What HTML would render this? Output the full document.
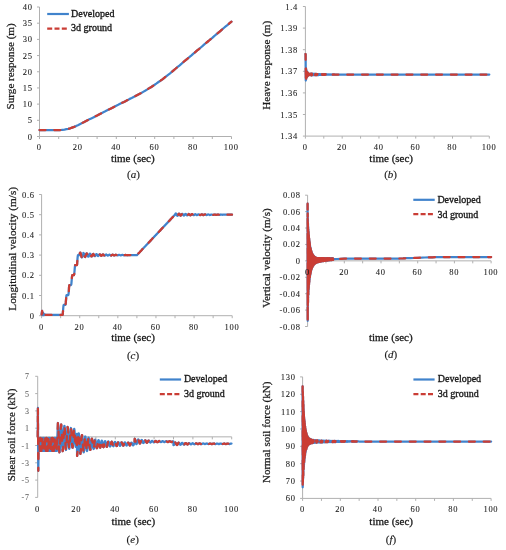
<!DOCTYPE html>
<html><head><meta charset="utf-8"><title>Figure</title><style>
html,body{margin:0;padding:0;background:#fff;width:506px;height:550px;overflow:hidden}
svg{display:block}
text{font-family:"Liberation Serif",serif;fill:#1a1a1a}
text{stroke:#1a1a1a;stroke-width:0.2}
.t{stroke-width:0.25}
.c{stroke-width:0.15}
.xt{stroke-width:0.3}
.lg{stroke-width:0.35}
.k{letter-spacing:0.7px;stroke-width:0.08}
.lt{fill:#666;stroke:#666;font-size:8px}
</style></head><body>
<svg width="506" height="550" viewBox="0 0 506 550">
<defs>
<path id="s1" d="M39.5,130.0L41.4,130.0L43.3,130.0L45.3,130.0L47.2,130.0L49.1,130.0L51.0,130.0L52.9,130.0L54.9,130.0L56.8,130.0L58.7,130.0L60.6,130.0L62.5,129.8L64.5,129.6L66.4,129.2L68.3,128.8L70.2,128.3L72.1,127.6L74.1,126.9L76.0,126.1L77.9,125.2L79.8,124.2L81.7,123.2L83.7,122.3L85.6,121.3L87.5,120.3L89.4,119.3L91.3,118.4L93.3,117.4L95.2,116.4L97.1,115.5L99.0,114.5L100.9,113.5L102.9,112.5L104.8,111.6L106.7,110.6L108.6,109.6L110.5,108.7L112.5,107.7L114.4,106.7L116.3,105.7L118.2,104.8L120.1,103.8L122.1,102.8L124.0,101.9L125.9,100.9L127.8,99.9L129.7,98.9L131.7,98.0L133.6,97.0L135.5,96.0L137.4,95.0L139.3,94.0L141.3,93.0L143.2,91.9L145.1,90.8L147.0,89.6L148.9,88.4L150.9,87.2L152.8,86.0L154.7,84.7L156.6,83.4L158.5,82.0L160.5,80.7L162.4,79.3L164.3,77.8L166.2,76.3L168.1,74.8L170.1,73.3L172.0,71.7L173.9,70.1L175.8,68.5L177.7,66.9L179.7,65.3L181.6,63.7L183.5,62.0L185.4,60.4L187.3,58.8L189.3,57.2L191.2,55.6L193.1,53.9L195.0,52.3L196.9,50.7L198.9,49.1L200.8,47.5L202.7,45.9L204.6,44.2L206.5,42.6L208.5,41.0L210.4,39.4L212.3,37.8L214.2,36.1L216.1,34.5L218.1,32.9L220.0,31.3L221.9,29.7L223.8,28.0L225.7,26.4L227.7,24.8L229.6,23.2L231.5,21.6"/>
<path id="s2" d="M305.4,54.0L305.6,54.0L305.7,66.8L305.8,80.6L305.9,67.7L306.0,79.8L306.0,68.6L306.1,79.2L306.2,69.3L306.3,78.6L306.4,70.0L306.5,78.1L306.6,70.5L306.7,77.7L306.8,71.0L306.9,77.3L307.0,71.5L307.1,76.9L307.1,71.9L307.2,76.6L307.3,72.2L307.4,76.4L307.5,72.5L307.6,76.1L307.7,72.7L307.8,75.9L307.9,73.0L308.0,75.8L308.1,73.2L308.2,75.6L308.3,73.3L308.3,75.5L308.4,73.5L308.5,75.4L308.6,73.6L308.7,75.3L308.8,73.7L308.9,75.2L309.0,73.8L309.1,75.1L309.2,73.9L309.3,75.0L309.4,74.0L309.4,75.0L309.5,74.1L309.6,74.9L309.7,74.1L309.8,74.9L309.9,74.2L310.0,74.8L310.1,74.2L310.2,74.8L310.3,74.3L310.4,74.8L310.5,74.3L310.5,74.7L310.6,74.3L310.7,74.7L310.8,74.4L310.9,73.7L311.4,75.4L311.8,73.7L312.3,75.3L312.8,73.8L313.2,75.2L313.7,73.9L314.1,75.2L314.6,73.9L315.1,75.1L315.5,74.0L316.0,75.1L316.4,74.0L316.9,75.0L317.4,74.1L317.8,75.0L318.3,74.1L318.7,75.0L319.2,74.1L319.7,74.9L320.1,74.2L320.6,74.9L321.0,74.2L321.5,74.9L322.0,74.2L322.4,74.8L322.9,74.2L323.3,74.8L323.8,74.3L324.2,74.8L324.7,74.3L325.2,74.8L325.6,74.3L326.1,74.8L326.5,74.3L327.0,74.7L327.5,74.3L327.9,74.7L328.4,74.4L328.8,74.7L329.3,74.4L329.8,74.7L330.2,74.4L330.7,74.7L331.1,74.4L331.6,74.7L332.1,74.4L332.5,74.7L333.0,74.4L333.4,74.7L333.9,74.4L334.4,74.6L334.8,74.5L489.3,74.5"/>
<path id="s3" d="M41.6,314.5L42.1,310.9L42.6,315.1L43.1,312.9L43.7,315.1L44.5,314.3L45.4,314.9L45.6,314.9L45.8,314.9L46.0,314.9L46.2,314.9L46.4,314.9L46.6,314.9L46.7,314.9L46.9,314.9L47.1,314.9L47.3,314.9L47.5,314.9L47.7,314.9L47.9,314.9L48.1,314.9L48.3,314.9L48.5,314.9L48.7,314.9L48.8,314.9L49.0,314.9L49.2,314.9L49.4,314.9L49.6,314.9L49.8,314.9L50.0,314.9L50.2,314.9L50.4,314.9L50.6,314.9L50.7,314.9L50.9,314.9L51.1,314.9L51.3,314.9L51.5,314.9L51.7,314.9L51.9,314.9L52.1,314.9L52.3,314.9L52.5,314.9L52.7,314.9L52.8,314.9L53.0,314.9L53.2,314.9L53.4,314.9L53.6,314.9L53.8,314.9L54.0,314.9L54.2,314.9L54.4,314.9L54.6,314.9L54.8,314.9L54.9,314.9L55.1,314.9L55.3,314.9L55.5,314.9L55.7,314.9L55.9,314.9L56.1,314.9L56.3,314.9L56.5,314.9L56.7,314.9L56.8,314.9L57.0,314.9L57.2,314.9L57.4,314.9L57.6,314.9L57.8,314.9L58.0,314.9L58.2,314.9L58.4,314.9L58.6,314.9L58.8,314.9L58.9,314.9L59.1,314.9L59.3,314.9L59.5,314.9L59.7,314.9L59.9,314.9L60.1,314.9L60.3,314.9L60.5,314.9L60.7,314.9L60.9,314.9L61.0,314.9L61.2,314.9L61.4,314.9L61.6,314.9L61.8,314.9L62.0,314.9L62.2,314.9L62.4,314.9L62.6,314.9L62.8,314.2L62.9,312.3L63.1,309.9L63.3,307.5L63.5,305.7L63.7,304.9L63.9,304.9L64.1,304.9L64.3,304.9L64.5,304.9L64.7,304.9L64.9,304.9L65.0,304.9L65.2,304.9L65.4,304.9L65.6,304.2L65.8,302.4L66.0,300.0L66.2,297.6L66.4,295.7L66.6,295.0L66.8,295.0L66.9,295.0L67.1,295.0L67.3,295.0L67.5,295.0L67.7,295.0L67.9,295.0L68.1,295.0L68.3,295.0L68.5,294.2L68.7,292.4L68.9,290.0L69.0,287.6L69.2,285.8L69.4,285.0L69.6,285.0L69.8,285.0L70.0,285.0L70.2,285.0L70.4,285.0L70.6,285.0L70.8,285.0L71.0,285.0L71.1,285.0L71.3,284.3L71.5,282.4L71.7,280.0L71.9,277.6L72.1,275.8L72.3,275.1L72.5,275.1L72.7,275.1L72.9,275.1L73.0,275.1L73.2,275.1L73.4,275.1L73.6,275.1L73.8,275.1L74.0,275.1L74.2,274.3L74.4,272.5L74.6,270.1L74.8,267.7L75.0,265.8L75.1,265.1L75.3,265.1L75.5,265.1L75.7,265.1L75.9,265.1L76.1,265.1L76.3,265.1L76.5,265.1L76.7,265.1L76.9,265.1L77.1,264.4L77.2,262.5L77.4,260.1L77.6,257.7L77.8,255.9L78.0,255.1L78.2,255.1L78.4,255.1L78.6,255.1L78.8,255.1L79.0,255.1L79.1,255.1L79.3,255.1L79.5,255.1L79.7,253.8L79.9,253.1L80.1,252.7L80.3,252.6L80.5,252.8L80.7,253.3L80.9,254.1L81.1,255.0L81.2,255.8L81.4,256.6L81.6,257.1L81.8,257.4L82.0,257.3L82.2,257.0L82.4,256.4L82.6,255.6L82.8,254.8L83.0,254.1L83.2,253.5L83.3,253.1L83.5,253.0L83.7,253.2L83.9,253.6L84.1,254.3L84.3,255.0L84.5,255.7L84.7,256.3L84.9,256.8L85.1,257.0L85.2,257.0L85.4,256.7L85.6,256.2L85.8,255.5L86.0,254.9L86.2,254.2L86.4,253.7L86.6,253.4L86.8,253.4L87.0,253.5L87.2,253.9L87.3,254.4L87.5,255.0L87.7,255.6L87.9,256.1L88.1,256.5L88.3,256.7L88.5,256.6L88.7,256.4L88.9,256.0L89.1,255.5L89.2,254.9L89.4,254.4L89.6,254.0L89.8,253.7L90.0,253.7L90.2,253.8L90.4,254.1L90.6,254.5L90.8,255.0L91.0,255.5L91.2,256.0L91.3,256.3L91.5,256.4L91.7,256.4L91.9,256.2L92.1,255.8L92.3,255.4L92.5,254.9L92.7,254.5L92.9,254.2L93.1,254.0L93.3,253.9L93.4,254.0L93.6,254.3L93.8,254.6L94.0,255.0L94.2,255.4L94.4,255.8L94.6,256.1L94.8,256.2L95.0,256.2L95.2,256.0L95.3,255.7L95.5,255.3L95.7,255.0L95.9,254.6L96.1,254.3L96.3,254.2L96.5,254.1L96.7,254.2L96.9,254.4L97.1,254.7L97.3,255.0L97.4,255.4L97.6,255.7L97.8,255.9L98.0,256.0L98.2,256.0L98.4,255.8L98.6,255.6L98.8,255.3L99.0,255.0L99.2,254.7L99.4,254.5L99.5,254.3L99.7,254.3L99.9,254.4L100.1,254.5L100.3,254.8L100.5,255.1L100.7,255.3L100.9,255.6L101.1,255.8L101.3,255.8L101.4,255.8L101.6,255.7L101.8,255.5L102.0,255.3L102.2,255.0L102.4,254.8L102.6,254.6L102.8,254.5L103.0,254.4L103.2,254.5L103.4,254.6L103.5,254.8L103.7,255.1L103.9,255.3L104.1,255.5L104.3,255.6L104.5,255.7L104.7,255.7L104.9,255.6L105.1,255.4L105.3,255.2L105.5,255.0L105.6,254.8L105.8,254.7L106.0,254.6L106.2,254.5L106.4,254.6L106.6,254.7L106.8,254.9L107.0,255.1L107.2,255.3L107.4,255.4L107.5,255.6L107.7,255.6L107.9,255.6L108.1,255.5L108.3,255.4L108.5,255.2L108.7,255.0L108.9,254.9L109.1,254.7L109.3,254.7L109.5,254.6L109.6,254.7L109.8,254.8L110.0,254.9L110.2,255.1L110.4,255.2L110.6,255.4L110.8,255.5L111.0,255.5L111.2,255.5L111.4,255.4L111.6,255.3L111.7,255.2L111.9,255.0L112.1,254.9L112.3,254.8L112.5,254.7L112.7,254.7L112.9,254.8L113.1,254.8L113.3,254.9L113.5,255.1L113.6,255.2L113.8,255.3L114.0,255.4L114.2,255.4L114.4,255.4L114.6,255.4L114.8,255.3L115.0,255.2L115.2,255.1L115.4,254.9L115.6,254.9L115.7,254.8L115.9,254.8L116.1,254.8L116.3,254.9L116.5,255.0L116.7,255.1L116.9,255.2L117.1,255.3L117.3,255.4L117.5,255.4L117.6,255.4L117.8,255.3L118.0,255.3L118.2,255.2L118.4,255.1L118.6,255.0L118.8,254.9L119.0,254.8L119.2,254.8L119.4,254.9L119.6,254.9L119.7,255.0L119.9,255.1L120.1,255.2L120.3,255.3L120.5,255.3L120.7,255.3L120.9,255.3L121.1,255.3L121.3,255.2L121.5,255.2L121.7,255.1L121.8,255.0L122.0,254.9L122.2,254.9L122.4,254.9L122.6,254.9L122.8,254.9L123.0,255.0L123.2,255.1L123.4,255.2L123.6,255.2L123.7,255.3L123.9,255.3L124.1,255.3L124.3,255.3L124.5,255.2L124.7,255.1L124.9,255.1L125.1,255.0L125.3,255.0L125.5,254.9L125.7,254.9L125.8,254.9L126.0,255.0L126.2,255.0L126.4,255.1L126.6,255.2L126.8,255.2L127.0,255.2L127.2,255.3L127.4,255.1L127.6,255.1L127.8,255.1L127.9,255.1L128.1,255.1L128.3,255.1L128.5,255.1L128.7,255.1L128.9,255.1L129.1,255.1L129.3,255.1L129.5,255.1L129.7,255.1L129.8,255.1L130.0,255.1L130.2,255.1L130.4,255.1L130.6,255.1L130.8,255.1L131.0,255.1L131.2,255.1L131.4,255.1L131.6,255.1L131.8,255.1L131.9,255.1L132.1,255.1L132.3,255.1L132.5,255.1L132.7,255.1L132.9,255.1L133.1,255.1L133.3,255.1L133.5,255.1L133.7,255.1L133.9,255.1L134.0,255.1L134.2,255.1L134.4,255.1L134.6,255.1L134.8,255.1L135.0,255.1L135.2,255.1L135.4,255.1L135.6,255.1L135.8,255.1L135.9,255.1L136.1,255.1L136.3,255.1L136.5,255.1L136.7,255.1L136.9,255.1L137.1,254.9L137.3,254.7L137.5,254.5L137.7,254.3L137.9,254.1L138.0,253.9L138.2,253.7L138.4,253.5L138.6,253.3L138.8,253.1L139.0,252.9L139.2,252.7L139.4,252.5L139.6,252.3L139.8,252.1L139.9,251.9L140.1,251.7L140.3,251.5L140.5,251.3L140.7,251.1L140.9,250.9L141.1,250.7L141.3,250.5L141.5,250.3L141.7,250.0L141.9,249.8L142.0,249.6L142.2,249.4L142.4,249.2L142.6,249.0L142.8,248.8L143.0,248.6L143.2,248.4L143.4,248.2L143.6,248.0L143.8,247.8L144.0,247.6L144.1,247.4L144.3,247.2L144.5,247.0L144.7,246.8L144.9,246.6L145.1,246.4L145.3,246.2L145.5,246.0L145.7,245.8L145.9,245.6L146.0,245.4L146.2,245.2L146.4,245.0L146.6,244.8L146.8,244.6L147.0,244.4L147.2,244.2L147.4,244.0L147.6,243.8L147.8,243.6L148.0,243.4L148.1,243.2L148.3,243.0L148.5,242.8L148.7,242.6L148.9,242.4L149.1,242.2L149.3,242.0L149.5,241.8L149.7,241.6L149.9,241.4L150.1,241.2L150.2,241.0L150.4,240.8L150.6,240.6L150.8,240.4L151.0,240.2L151.2,239.9L151.4,239.7L151.6,239.5L151.8,239.3L152.0,239.1L152.1,238.9L152.3,238.7L152.5,238.5L152.7,238.3L152.9,238.1L153.1,237.9L153.3,237.7L153.5,237.5L153.7,237.3L153.9,237.1L154.1,236.9L154.2,236.7L154.4,236.5L154.6,236.3L154.8,236.1L155.0,235.9L155.2,235.7L155.4,235.5L155.6,235.3L155.8,235.1L156.0,234.9L156.2,234.7L156.3,234.5L156.5,234.3L156.7,234.1L156.9,233.9L157.1,233.7L157.3,233.5L157.5,233.3L157.7,233.1L157.9,232.9L158.1,232.7L158.2,232.5L158.4,232.3L158.6,232.1L158.8,231.9L159.0,231.7L159.2,231.5L159.4,231.3L159.6,231.1L159.8,230.9L160.0,230.7L160.2,230.5L160.3,230.3L160.5,230.1L160.7,229.8L160.9,229.6L161.1,229.4L161.3,229.2L161.5,229.0L161.7,228.8L161.9,228.6L162.1,228.4L162.2,228.2L162.4,228.0L162.6,227.8L162.8,227.6L163.0,227.4L163.2,227.2L163.4,227.0L163.6,226.8L163.8,226.6L164.0,226.4L164.2,226.2L164.3,226.0L164.5,225.8L164.7,225.6L164.9,225.4L165.1,225.2L165.3,225.0L165.5,224.8L165.7,224.6L165.9,224.4L166.1,224.2L166.3,224.0L166.4,223.8L166.6,223.6L166.8,223.4L167.0,223.2L167.2,223.0L167.4,222.8L167.6,222.6L167.8,222.4L168.0,222.2L168.2,222.0L168.3,221.8L168.5,221.6L168.7,221.4L168.9,221.2L169.1,221.0L169.3,220.8L169.5,220.6L169.7,220.4L169.9,220.2L170.1,220.0L170.3,219.8L170.4,219.5L170.6,219.3L170.8,219.1L171.0,218.9L171.2,218.7L171.4,218.5L171.6,218.3L171.8,218.1L172.0,217.9L172.2,217.7L172.4,217.5L172.5,217.3L172.7,217.1L172.9,216.9L173.1,216.7L173.3,216.5L173.5,216.3L173.7,216.1L173.9,215.9L174.1,215.7L174.3,215.5L174.4,215.3L174.6,215.1L174.8,214.9L175.0,214.7L175.2,214.3L175.4,213.9L175.6,213.6L175.8,213.5L176.0,213.6L176.2,213.8L176.4,214.1L176.5,214.5L176.7,214.9L176.9,215.3L177.1,215.6L177.3,215.8L177.5,215.8L177.7,215.7L177.9,215.4L178.1,215.1L178.3,214.7L178.5,214.3L178.6,214.0L178.8,213.8L179.0,213.7L179.2,213.7L179.4,213.9L179.6,214.2L179.8,214.5L180.0,214.9L180.2,215.2L180.4,215.5L180.5,215.6L180.7,215.6L180.9,215.5L181.1,215.3L181.3,215.0L181.5,214.7L181.7,214.4L181.9,214.1L182.1,213.9L182.3,213.8L182.5,213.9L182.6,214.0L182.8,214.2L183.0,214.5L183.2,214.9L183.4,215.1L183.6,215.4L183.8,215.5L184.0,215.5L184.2,215.4L184.4,215.2L184.5,215.0L184.7,214.7L184.9,214.4L185.1,214.2L185.3,214.0L185.5,213.9L185.7,214.0L185.9,214.1L186.1,214.3L186.3,214.6L186.5,214.8L186.6,215.1L186.8,215.3L187.0,215.4L187.2,215.4L187.4,215.3L187.6,215.2L187.8,215.0L188.0,214.7L188.2,214.5L188.4,214.2L188.6,214.1L188.7,214.0L188.9,214.1L189.1,214.2L189.3,214.4L189.5,214.6L189.7,214.8L189.9,215.0L190.1,215.2L190.3,215.3L190.5,215.3L190.6,215.2L190.8,215.1L191.0,214.9L191.2,214.7L191.4,214.5L191.6,214.3L191.8,214.2L192.0,214.1L192.2,214.1L192.4,214.2L192.6,214.4L192.7,214.6L192.9,214.8L193.1,215.0L193.3,215.1L193.5,215.2L193.7,215.2L193.9,215.2L194.1,215.1L194.3,214.9L194.5,214.7L194.7,214.5L194.8,214.4L195.0,214.2L195.2,214.2L195.4,214.2L195.6,214.3L195.8,214.4L196.0,214.6L196.2,214.8L196.4,215.0L196.6,215.1L196.7,215.2L196.9,215.2L197.1,215.1L197.3,215.0L197.5,214.9L197.7,214.7L197.9,214.5L198.1,214.4L198.3,214.3L198.5,214.3L198.7,214.3L198.8,214.4L199.0,214.5L199.2,214.6L199.4,214.8L199.6,214.9L199.8,215.0L200.0,215.1L200.2,215.1L200.4,215.1L200.6,215.0L200.8,214.8L200.9,214.7L201.1,214.6L201.3,214.4L201.5,214.4L201.7,214.3L201.9,214.3L202.1,214.4L202.3,214.5L202.5,214.6L202.7,214.8L202.8,214.9L203.0,215.0L203.2,215.0L203.4,215.0L203.6,215.0L203.8,214.9L204.0,214.8L204.2,214.7L204.4,214.6L204.6,214.5L204.8,214.4L204.9,214.4L205.1,214.4L205.3,214.4L205.5,214.5L205.7,214.6L205.9,214.8L206.1,214.9L206.3,214.9L206.5,215.0L206.7,215.0L206.9,215.0L207.0,214.9L207.2,214.8L207.4,214.7L207.6,214.6L207.8,214.5L208.0,214.4L208.2,214.4L208.4,214.4L208.6,214.5L208.8,214.6L208.9,214.6L209.1,214.8L209.3,214.8L209.5,214.9L209.7,215.0L209.9,215.0L210.1,214.9L210.3,214.9L210.5,214.8L210.7,214.7L210.9,214.6L211.0,214.5L211.2,214.5L211.4,214.5L211.6,214.5L211.8,214.5L212.0,214.6L212.2,214.7L212.4,214.7L212.6,214.8L212.8,214.9L212.9,214.9L213.1,214.9L213.3,214.9L213.5,214.9L213.7,214.8L213.9,214.7L214.1,214.6L214.3,214.6L214.5,214.5L214.7,214.5L214.9,214.5L215.0,214.5L215.2,214.6L215.4,214.7L215.6,214.7L215.8,214.8L216.0,214.9L216.2,214.9L216.4,214.9L216.6,214.9L216.8,214.8L217.0,214.8L217.1,214.7L217.3,214.6L217.5,214.6L217.7,214.5L217.9,214.5L218.1,214.5L218.3,214.6L218.5,214.6L218.7,214.7L218.9,214.7L219.0,214.8L219.2,214.8L219.4,214.9L219.6,214.9L219.8,214.9L220.0,214.8L220.2,214.8L220.4,214.7L220.6,214.6L220.8,214.6L221.0,214.6L221.1,214.5L221.3,214.5L221.5,214.6L221.7,214.6L221.9,214.7L222.1,214.7L222.3,214.8L222.5,214.8L222.7,214.7L222.9,214.7L223.1,214.7L223.2,214.7L223.4,214.7L223.6,214.7L223.8,214.7L224.0,214.7L224.2,214.7L224.4,214.7L224.6,214.7L224.8,214.7L225.0,214.7L225.1,214.7L225.3,214.7L225.5,214.7L225.7,214.7L225.9,214.7L226.1,214.7L226.3,214.7L226.5,214.7L226.7,214.7L226.9,214.7L227.1,214.7L227.2,214.7L227.4,214.7L227.6,214.7L227.8,214.7L228.0,214.7L228.2,214.7L228.4,214.7L228.6,214.7L228.8,214.7L229.0,214.7L229.2,214.7L229.3,214.7L229.5,214.7L229.7,214.7L229.9,214.7L230.1,214.7L230.3,214.7L230.5,214.7L230.7,214.7L230.9,214.7L231.1,214.7L231.2,214.7L231.4,214.7L231.6,214.7L231.8,214.7L232.0,214.7"/>
<path id="s4" d="M307.6,203.7L307.7,320.8L307.7,213.3L307.8,309.5L307.9,219.4L308.0,302.6L308.0,223.6L308.1,298.1L308.2,226.7L308.3,294.7L308.3,229.2L308.4,292.1L308.5,231.3L308.6,289.9L308.6,233.2L308.7,288.0L308.8,234.9L308.8,286.3L308.9,236.5L309.0,284.7L309.1,238.0L309.1,283.2L309.2,239.3L309.3,281.9L309.4,240.6L309.4,280.6L309.5,241.8L309.6,279.5L309.7,242.8L309.7,278.4L309.8,243.9L309.9,277.3L309.9,244.8L310.0,276.4L310.1,245.7L310.2,275.5L310.2,246.5L310.3,274.6L310.4,247.3L310.5,273.9L310.5,248.0L310.6,273.1L310.7,248.7L310.8,272.4L310.8,249.4L310.9,271.8L311.0,249.9L311.0,271.2L311.1,250.5L311.2,270.6L311.3,251.0L311.3,270.1L311.4,251.5L311.5,269.6L311.6,251.9L311.6,269.2L311.7,252.4L311.8,268.7L311.9,252.8L311.9,268.3L312.0,253.1L312.1,267.9L312.2,253.5L312.2,267.6L312.3,253.8L312.4,267.2L312.4,254.1L312.5,266.9L312.6,254.4L312.7,266.6L312.7,254.6L312.8,266.3L312.9,254.9L313.0,266.1L313.0,255.1L313.1,265.8L313.2,255.3L313.3,265.6L313.3,255.5L313.4,265.4L313.5,255.7L313.5,265.2L313.6,255.9L313.7,265.0L313.8,256.1L313.8,264.8L313.9,256.2L314.0,264.6L314.1,256.4L314.1,264.5L314.2,256.5L314.3,264.3L314.4,256.6L314.4,264.2L314.5,256.8L314.6,264.0L314.6,256.9L314.7,263.9L314.8,257.0L314.9,263.8L314.9,257.1L315.0,263.7L315.1,257.2L315.2,263.6L315.2,257.3L315.3,263.4L315.4,257.3L315.5,263.3L315.5,257.4L315.6,263.3L315.7,257.5L315.7,263.2L315.8,257.6L315.9,263.1L316.0,257.6L316.0,263.0L316.1,257.7L316.2,262.9L316.3,257.7L316.3,262.8L316.4,257.8L316.5,262.8L316.6,257.9L316.6,262.7L316.7,257.9L316.8,262.6L316.8,257.9L316.9,262.6L317.0,258.0L317.1,262.5L317.1,258.0L317.2,262.5L317.3,258.1L317.4,262.4L317.4,258.1L317.5,262.4L317.6,258.1L317.7,262.3L317.7,258.2L317.8,262.3L317.9,258.2L317.9,262.2L318.0,258.2L318.1,262.2L318.2,258.2L318.2,262.1L318.3,258.3L318.4,262.1L318.5,258.3L318.5,262.0L318.6,258.3L318.7,262.0L318.8,258.3L318.8,261.9L318.9,258.4L319.0,261.9L319.1,258.4L319.1,261.9L319.2,258.4L319.3,261.8L319.3,258.4L319.4,261.8L319.5,258.4L319.6,261.8L319.6,258.4L319.7,261.7L319.8,258.5L319.9,261.7L319.9,258.5L320.0,261.7L320.1,258.5L320.2,261.6L320.2,258.5L320.3,261.6L320.4,258.5L320.4,261.6L320.5,258.5L320.6,261.5L320.7,258.5L320.7,261.5L320.8,258.5L320.9,261.5L321.0,258.6L321.0,261.5L321.1,258.6L321.2,261.4L321.3,258.6L321.3,261.4L321.4,258.6L321.5,261.4L321.5,258.6L321.6,261.4L321.7,258.6L321.8,261.3L321.8,258.6L321.9,261.3L322.0,258.6L322.1,261.3L322.1,258.6L322.2,261.2L322.3,258.6L322.4,261.2L322.4,258.6L322.5,261.2L322.6,258.6L322.6,261.2L322.7,258.6L322.8,261.2L322.9,258.6L322.9,261.1L323.0,258.7L323.1,261.1L323.2,258.7L323.2,261.1L323.3,258.7L323.4,261.1L323.5,258.7L323.5,261.0L323.6,258.7L323.7,261.0L323.7,258.7L323.8,261.0L323.9,258.7L324.0,261.0L324.0,258.7L324.1,261.0L324.2,258.7L324.3,260.9L324.3,258.7L324.4,260.9L324.5,258.7L324.6,260.9L324.6,258.7L324.7,260.9L324.8,258.7L324.8,260.8L324.9,258.7L325.0,260.8L325.1,258.7L325.1,260.8L325.2,258.7L325.3,260.8L325.4,258.7L325.4,260.8L325.5,258.7L325.6,260.7L325.7,258.7L325.7,260.7L325.8,258.7L325.9,260.7L326.0,258.7L326.0,260.7L326.1,258.7L326.2,260.7L326.2,258.7L326.3,260.6L326.4,258.7L326.5,260.6L326.5,258.7L326.6,260.6L326.7,258.7L326.8,260.6L326.8,258.7L326.9,260.6L327.0,258.7L327.1,260.6L327.1,258.7L327.2,260.5L327.3,258.7L327.3,260.5L327.4,258.7L327.5,260.5L327.6,258.7L327.6,260.5L327.7,258.7L327.8,260.5L327.9,258.7L327.9,260.4L328.0,258.7L328.1,260.4L328.2,258.7L328.2,260.4L328.3,258.7L328.4,260.4L328.4,258.7L328.5,260.4L328.6,258.7L328.7,260.4L328.7,258.7L328.8,260.3L328.9,258.7L329.0,260.3L329.0,258.7L329.1,260.3L329.2,258.7L329.3,260.3L329.3,258.7L329.4,260.3L329.5,258.7L329.5,260.3L329.6,258.7L329.7,260.2L329.8,258.7L329.8,260.2L329.9,258.7L330.0,260.2L330.1,258.7L330.1,260.2L330.2,258.7L330.3,260.2L330.4,258.7L330.4,260.1L330.5,258.7L330.6,260.1L330.6,258.7L330.7,260.1L330.8,258.7L330.9,260.1L330.9,258.7L331.0,260.1L331.1,258.7L331.2,260.1L331.2,258.7L331.3,260.1L331.4,258.7L331.5,260.0L331.5,258.7L331.6,260.0L331.7,258.7L331.7,260.0L331.8,258.7L331.9,260.0L332.0,258.7L332.0,260.0L332.1,258.7L332.2,260.0L332.3,258.7L332.3,259.9L332.4,258.7L332.5,259.9L332.6,258.7L332.6,259.9L332.7,258.7L332.8,259.9L332.8,258.7L332.9,259.9L333.0,258.6L333.1,259.9L333.1,258.6L333.2,259.8L333.3,259.2L337.0,259.0L340.6,258.8L344.3,258.6L348.0,258.6L351.6,258.6L355.3,258.6L359.0,258.6L362.7,258.6L366.3,258.6L370.0,258.6L373.7,258.6L377.3,258.6L381.0,258.6L384.7,258.6L388.3,258.6L392.0,258.5L395.7,258.5L399.4,258.5L403.0,258.4L406.7,258.2L410.4,258.1L414.0,258.0L417.7,257.8L421.4,257.7L425.0,257.5L428.7,257.4L432.4,257.3L436.1,257.2L439.7,257.1L443.4,257.1L447.1,257.1L450.7,257.1L454.4,257.1L458.1,257.1L461.7,257.1L465.4,257.1L469.1,257.1L472.8,257.1L476.4,257.1L480.1,257.1L483.8,257.1L487.4,257.1L491.1,257.1"/>
<path id="s5" d="M37.7,436.8L37.9,407.9L38.3,470.8L38.7,438.0L39.1,438.0L39.8,450.9L40.6,438.0L41.4,450.9L42.2,438.0L42.9,450.9L43.7,438.0L44.5,450.9L45.3,438.0L46.0,450.9L46.8,438.0L47.6,450.9L48.4,438.0L49.1,450.9L49.9,438.0L50.7,450.9L51.5,438.0L52.3,450.9L53.0,438.0L53.8,450.9L54.6,438.0L55.4,450.9L56.1,438.0L56.9,450.9L57.9,423.0L58.1,424.1L58.3,427.2L58.5,431.7L58.7,437.0L58.8,442.5L59.0,447.3L59.2,450.7L59.4,452.4L59.6,452.1L59.8,449.9L60.0,446.1L60.2,441.3L60.4,436.1L60.6,431.2L60.8,427.3L61.0,425.0L61.2,424.5L61.4,425.9L61.6,428.9L61.8,433.2L62.0,438.1L62.1,443.0L62.3,447.1L62.5,450.0L62.7,451.2L62.9,450.6L63.1,448.2L63.3,444.6L63.5,440.0L63.7,435.3L63.9,431.0L64.1,427.8L64.3,426.0L64.5,425.9L64.7,427.5L64.9,430.5L65.1,434.6L65.2,439.1L65.4,443.4L65.6,446.9L65.8,449.2L66.0,450.0L66.2,449.1L66.4,446.7L66.6,443.2L66.8,439.0L67.0,434.8L67.2,431.0L67.4,428.3L67.6,427.0L67.8,427.2L68.0,428.9L68.2,431.9L68.4,435.7L68.5,439.8L68.7,443.6L68.9,446.6L69.1,448.4L69.3,448.8L69.5,447.7L69.7,445.3L69.9,442.0L70.1,438.1L70.3,434.4L70.5,431.1L70.7,428.9L70.9,428.0L71.1,428.5L71.3,430.3L71.5,433.1L71.7,436.7L71.8,440.4L72.0,443.7L72.2,446.2L72.4,447.6L72.6,447.7L72.8,446.5L73.0,444.1L73.2,441.0L73.4,437.4L73.6,434.1L73.8,431.3L74.0,429.5L74.2,428.9L74.4,429.6L74.6,431.5L74.8,434.2L74.9,437.5L75.1,440.8L75.3,443.7L75.5,445.8L75.7,446.9L75.9,446.7L76.1,445.3L76.3,443.0L76.5,440.1L76.7,436.9L76.9,433.9L77.1,455.9L77.3,455.0L77.5,452.6L77.7,449.1L77.9,445.1L78.1,441.0L78.2,437.3L78.4,434.7L78.6,433.3L78.8,433.4L79.0,435.0L79.2,437.7L79.4,441.2L79.6,445.0L79.8,448.6L80.0,451.5L80.2,453.3L80.4,453.9L80.6,453.2L80.8,451.2L81.0,448.3L81.2,444.9L81.3,441.5L81.5,438.4L81.7,436.2L81.9,435.1L82.1,435.2L82.3,436.5L82.5,438.7L82.7,441.6L82.9,444.8L83.1,447.8L83.3,450.3L83.5,451.8L83.7,452.3L83.9,451.7L84.1,450.0L84.3,447.6L84.5,444.8L84.6,441.9L84.8,439.3L85.0,437.5L85.2,436.5L85.4,436.6L85.6,437.7L85.8,439.6L86.0,442.0L86.2,444.7L86.4,447.2L86.6,449.3L86.8,450.6L87.0,451.0L87.2,450.5L87.4,449.1L87.6,447.0L87.8,444.6L87.9,442.2L88.1,440.1L88.3,438.5L88.5,437.7L88.7,437.8L88.9,438.7L89.1,440.3L89.3,442.3L89.5,444.6L89.7,446.7L89.9,448.5L90.1,449.6L90.3,449.9L90.5,449.5L90.7,448.3L90.9,446.6L91.1,444.6L91.2,442.5L91.4,440.7L91.6,439.3L91.8,438.7L92.0,438.7L92.2,439.5L92.4,440.8L92.6,442.6L92.8,444.5L93.0,446.3L93.2,447.8L93.4,448.8L93.6,449.0L93.8,448.7L94.0,447.7L94.2,446.2L94.3,444.5L94.5,442.7L94.7,441.2L94.9,440.0L95.1,439.5L95.3,439.5L95.5,440.1L95.7,441.3L95.9,442.8L96.1,444.4L96.3,446.0L96.5,447.3L96.7,448.1L96.9,448.3L97.1,448.0L97.3,447.1L97.5,445.9L97.6,444.4L97.8,442.9L98.0,441.6L98.2,440.6L98.4,440.1L98.6,440.1L98.8,440.7L99.0,441.7L99.2,443.0L99.4,444.4L99.6,445.7L99.8,446.8L100.0,447.5L100.2,447.7L100.4,447.5L100.6,446.7L100.8,445.6L100.9,444.4L101.1,443.1L101.3,441.9L101.5,441.1L101.7,440.6L101.9,440.7L102.1,441.1L102.3,442.0L102.5,443.1L102.7,444.3L102.9,445.5L103.1,446.4L103.3,447.1L103.5,447.3L103.7,447.0L103.9,446.4L104.0,445.4L104.2,444.3L104.4,443.2L104.6,442.2L104.8,441.4L105.0,441.1L105.2,441.1L105.4,441.5L105.6,442.2L105.8,443.2L106.0,444.3L106.2,445.3L106.4,446.1L106.6,446.7L106.8,446.9L107.0,446.6L107.2,446.1L107.3,445.3L107.5,444.3L107.7,443.3L107.9,442.4L108.1,441.7L108.3,441.4L108.5,441.4L108.7,441.8L108.9,442.5L109.1,443.3L109.3,444.3L109.5,445.2L109.7,445.9L109.9,446.4L110.1,446.5L110.3,446.3L110.5,445.9L110.6,445.1L110.8,444.3L111.0,443.4L111.2,442.6L111.4,442.0L111.6,441.7L111.8,441.7L112.0,442.0L112.2,442.6L112.4,443.4L112.6,444.2L112.8,445.0L113.0,445.7L113.2,446.1L113.4,446.3L113.6,446.1L113.7,445.7L113.9,445.0L114.1,444.2L114.3,443.4L114.5,442.7L114.7,442.2L114.9,441.9L115.1,441.9L115.3,442.2L115.5,442.8L115.7,443.5L115.9,444.2L116.1,444.9L116.3,445.5L116.5,445.9L116.7,446.0L116.9,445.9L117.0,445.5L117.2,444.9L117.4,444.2L117.6,443.5L117.8,442.9L118.0,442.4L118.2,442.1L118.4,442.1L118.6,442.4L118.8,442.9L119.0,443.5L119.2,444.2L119.4,444.9L119.6,445.4L119.8,445.8L120.0,445.9L120.2,445.7L120.3,445.4L120.5,444.8L120.7,444.2L120.9,443.5L121.1,443.0L121.3,442.5L121.5,442.3L121.7,442.3L121.9,442.5L122.1,443.0L122.3,443.6L122.5,444.2L122.7,444.8L122.9,445.3L123.1,445.6L123.3,445.7L123.4,445.6L123.6,445.3L123.8,444.8L124.0,444.2L124.2,443.6L124.4,443.0L124.6,442.6L124.8,442.4L125.0,442.4L125.2,442.6L125.4,443.1L125.6,443.6L125.8,444.2L126.0,444.7L126.2,445.2L126.4,445.5L126.6,445.6L126.7,445.5L126.9,445.2L127.1,444.7L127.3,444.2L127.5,443.6L127.7,443.1L127.9,442.7L128.1,442.5L128.3,442.5L128.5,442.7L128.7,443.1L128.9,443.6L129.1,444.2L129.3,444.7L129.5,445.1L129.7,445.4L129.9,445.5L130.0,445.4L130.2,445.1L130.4,444.7L130.6,444.2L130.8,443.6L131.0,443.2L131.2,442.8L131.4,442.6L131.6,442.6L131.8,442.8L132.0,443.2L132.2,443.6L132.4,444.2L132.6,444.7L132.8,445.1L133.0,445.3L133.1,445.4L133.3,445.3L133.5,445.1L133.7,444.6L133.9,444.2L134.1,443.7L134.3,443.2L134.5,442.9L134.7,438.8L134.9,439.0L135.1,439.5L135.3,440.2L135.5,441.1L135.7,442.1L135.9,442.9L136.1,443.6L136.3,444.0L136.4,444.1L136.6,443.9L136.8,443.5L137.0,442.8L137.2,442.0L137.4,441.2L137.6,440.5L137.8,439.9L138.0,439.5L138.2,439.4L138.4,439.6L138.6,440.0L138.8,440.6L139.0,441.3L139.2,442.0L139.4,442.6L139.6,443.1L139.7,443.4L139.9,443.5L140.1,443.4L140.3,443.0L140.5,442.5L140.7,441.9L140.9,441.3L141.1,440.7L141.3,440.3L141.5,440.0L141.7,439.9L141.9,440.0L142.1,440.4L142.3,440.8L142.5,441.3L142.7,441.9L142.8,442.4L143.0,442.8L143.2,443.0L143.4,443.1L143.6,443.0L143.8,442.7L144.0,442.3L144.2,441.9L144.4,441.4L144.6,440.9L144.8,440.6L145.0,440.4L145.2,440.3L145.4,440.4L145.6,440.6L145.8,441.0L146.0,441.4L146.1,441.8L146.3,442.2L146.5,442.5L146.7,442.7L146.9,442.8L147.1,442.7L147.3,442.5L147.5,442.2L147.7,441.8L147.9,441.4L148.1,441.1L148.3,440.8L148.5,440.6L148.7,440.6L148.9,440.6L149.1,440.8L149.2,441.1L149.4,441.4L149.6,441.8L149.8,442.1L150.0,442.3L150.2,442.5L150.4,442.5L150.6,442.5L150.8,442.3L151.0,442.1L151.2,441.8L151.4,441.5L151.6,441.2L151.8,441.0L152.0,440.8L152.2,440.8L152.4,440.8L152.5,441.0L152.7,441.2L152.9,441.5L153.1,441.7L153.3,442.0L153.5,442.2L153.7,442.3L153.9,442.4L154.1,442.3L154.3,442.2L154.5,442.0L154.7,441.7L154.9,441.5L155.1,441.3L155.3,441.1L155.5,441.0L155.7,440.9L155.8,441.0L156.0,441.1L156.2,441.3L156.4,441.5L156.6,441.7L156.8,441.9L157.0,442.1L157.2,442.2L157.4,442.2L157.6,442.2L157.8,442.1L158.0,441.9L158.2,441.7L158.4,441.5L158.6,441.3L158.8,441.2L158.9,441.1L159.1,441.0L159.3,441.1L159.5,441.2L159.7,441.3L159.9,441.5L160.1,441.7L160.3,441.9L160.5,442.0L160.7,442.1L160.9,442.1L161.1,442.1L161.3,442.0L161.5,441.9L161.7,441.7L161.9,441.5L162.1,441.4L162.2,441.2L162.4,441.1L162.6,441.1L162.8,441.1L163.0,441.2L163.2,441.4L163.4,441.5L163.6,441.7L163.8,441.8L164.0,442.0L164.2,442.0L164.4,442.1L164.6,442.0L164.8,442.0L165.0,441.8L165.2,441.7L165.4,441.5L165.5,441.4L165.7,441.3L165.9,441.2L166.1,441.2L166.3,441.2L166.5,441.3L166.7,441.4L166.9,441.5L167.1,441.7L167.3,441.8L167.5,441.9L167.7,442.0L167.9,442.0L168.1,442.0L168.3,441.9L168.5,441.8L168.6,441.7L168.8,441.5L169.0,441.4L169.2,441.3L169.4,441.2L169.6,441.2L169.8,441.2L170.0,441.3L170.2,441.4L170.4,441.5L170.6,441.7L170.8,441.8L171.0,441.9L171.2,442.0L171.4,442.0L171.6,442.0L171.8,441.9L171.9,441.8L172.1,441.7L172.3,441.5L172.5,441.4L172.7,441.3L172.9,441.3L173.1,441.3L173.3,441.3L173.5,445.2L173.7,445.1L173.9,444.9L174.1,444.5L174.3,444.0L174.5,443.5L174.7,443.1L174.9,442.7L175.1,442.5L175.2,442.4L175.4,442.5L175.6,442.8L175.8,443.1L176.0,443.5L176.2,444.0L176.4,444.4L176.6,444.7L176.8,444.9L177.0,445.0L177.2,444.9L177.4,444.7L177.6,444.4L177.8,444.0L178.0,443.6L178.2,443.2L178.4,442.9L178.5,442.7L178.7,442.7L178.9,442.7L179.1,442.9L179.3,443.2L179.5,443.6L179.7,444.0L179.9,444.3L180.1,444.6L180.3,444.7L180.5,444.8L180.7,444.7L180.9,444.5L181.1,444.3L181.3,443.9L181.5,443.6L181.6,443.3L181.8,443.1L182.0,442.9L182.2,442.9L182.4,442.9L182.6,443.1L182.8,443.3L183.0,443.6L183.2,443.9L183.4,444.2L183.6,444.4L183.8,444.6L184.0,444.6L184.2,444.5L184.4,444.4L184.6,444.2L184.8,443.9L184.9,443.6L185.1,443.4L185.3,443.2L185.5,443.0L185.7,443.0L185.9,443.1L186.1,443.2L186.3,443.4L186.5,443.6L186.7,443.9L186.9,444.1L187.1,444.3L187.3,444.4L187.5,444.5L187.7,444.4L187.9,444.3L188.1,444.1L188.2,443.9L188.4,443.7L188.6,443.4L188.8,443.3L189.0,443.2L189.2,443.1L189.4,443.2L189.6,443.3L189.8,443.5L190.0,443.7L190.2,443.9L190.4,444.1L190.6,444.2L190.8,444.3L191.0,444.4L191.2,444.3L191.3,444.2L191.5,444.1L191.7,443.9L191.9,443.7L192.1,443.5L192.3,443.3L192.5,443.2L192.7,443.2L192.9,443.3L193.1,443.4L193.3,443.5L193.5,443.7L193.7,443.9L193.9,444.0L194.1,444.2L194.3,444.3L194.5,444.3L194.6,444.2L194.8,444.2L195.0,444.0L195.2,443.9L195.4,443.7L195.6,443.5L195.8,443.4L196.0,443.3L196.2,443.3L196.4,443.3L196.6,443.4L196.8,443.5L197.0,443.7L197.2,443.8L197.4,444.0L197.6,444.1L197.8,444.2L197.9,444.2L198.1,444.2L198.3,444.1L198.5,444.0L198.7,443.8L198.9,443.7L199.1,443.6L199.3,443.4L199.5,443.4L199.7,443.4L199.9,443.4L200.1,443.5L200.3,443.6L200.5,443.7L200.7,443.8L200.9,444.0L201.0,444.1L201.2,444.1L201.4,444.2L201.6,444.1L201.8,444.1L202.0,444.0L202.2,443.8L202.4,443.7L202.6,443.6L202.8,443.5L203.0,443.4L203.2,443.4L203.4,443.4L203.6,443.5L203.8,443.6L204.0,443.7L204.2,443.8L204.3,443.9L204.5,444.0L204.7,444.1L204.9,444.1L205.1,444.1L205.3,444.0L205.5,443.9L205.7,443.8L205.9,443.7L206.1,443.6L206.3,443.5L206.5,443.5L206.7,443.4L206.9,443.5L207.1,443.5L207.3,443.6L207.4,443.7L207.6,443.8L207.8,443.9L208.0,444.0L208.2,444.1L208.4,444.1L208.6,444.1L208.8,444.0L209.0,443.9L209.2,443.8L209.4,443.7L209.6,443.6L209.8,443.5L210.0,443.5L210.2,443.5L210.4,443.5L210.6,443.5L210.7,443.6L210.9,443.7L211.1,443.8L211.3,443.9L211.5,444.0L211.7,444.0L211.9,444.1L212.1,444.0L212.3,444.0L212.5,443.9L212.7,443.8L212.9,443.7L213.1,443.6L213.3,443.6L213.5,443.5L213.7,443.5L213.9,443.5L214.0,443.6L214.2,443.6L214.4,443.7L214.6,443.8L214.8,443.9L215.0,444.0L215.2,444.0L215.4,444.0L215.6,444.0L215.8,444.0L216.0,443.9L216.2,443.8L216.4,443.7L216.6,443.6L216.8,443.6L217.0,443.5L217.1,443.5L217.3,443.5L217.5,443.6L217.7,443.6L217.9,443.7L218.1,443.8L218.3,443.9L218.5,444.0L218.7,444.0L218.9,444.0L219.1,444.0L219.3,444.0L219.5,443.9L219.7,443.8L219.9,443.7L220.1,443.7L220.3,443.6L220.4,443.5L220.6,443.5L220.8,443.5L221.0,443.6L221.2,443.7L221.4,443.7L221.6,443.8L221.8,443.9L222.0,443.9L222.2,444.0L222.4,444.0L222.6,444.0L222.8,443.9L223.0,443.9L223.2,443.8L223.4,443.7L223.6,443.7L223.7,443.6L223.9,443.6L224.1,443.5L224.3,443.6L224.5,443.6L224.7,443.7L224.9,443.7L225.1,443.8L225.3,443.9L225.5,443.9L225.7,444.0L225.9,444.0L226.1,444.0L226.3,443.9L226.5,443.9L226.7,443.8L226.9,443.7L227.0,443.7L227.2,443.6L227.4,443.6L227.6,443.6L227.8,443.6L228.0,443.6L228.2,443.7L228.4,443.7L228.6,443.8L228.8,443.9L229.0,443.9L229.2,444.0L229.4,444.0L229.6,444.0L229.8,443.9L230.0,443.9L230.1,443.8L230.3,443.7L230.5,443.7L230.7,443.6L230.9,443.6L231.1,443.6L231.3,443.6L231.5,443.6"/>
<path id="s6" d="M302.6,386.3L302.7,487.3L302.8,391.6L302.9,483.0L303.0,396.4L303.1,479.0L303.2,400.7L303.3,475.4L303.4,404.6L303.4,472.2L303.5,408.1L303.6,469.3L303.7,411.2L303.8,466.7L303.9,414.1L304.0,464.4L304.1,416.6L304.2,462.3L304.3,418.9L304.4,460.4L304.5,421.0L304.6,458.7L304.7,422.9L304.8,457.1L304.9,424.6L305.0,455.7L305.1,426.1L305.1,454.5L305.2,427.4L305.3,453.3L305.4,428.7L305.5,452.3L305.6,429.8L305.7,451.4L305.8,430.8L305.9,450.6L306.0,431.7L306.1,449.8L306.2,432.5L306.3,449.2L306.4,433.2L306.5,448.6L306.6,433.9L306.7,448.0L306.7,434.5L306.8,447.5L306.9,435.0L307.0,447.1L307.1,435.5L307.2,446.7L307.3,436.0L307.4,446.3L307.5,436.4L307.6,446.0L307.7,436.7L307.8,445.7L307.9,437.0L308.0,445.4L308.1,437.3L308.2,445.2L308.3,437.6L308.3,444.9L308.4,437.8L308.5,444.7L308.6,438.0L308.7,444.6L308.8,438.2L308.9,444.4L309.0,438.4L309.1,444.3L309.2,438.6L309.3,444.1L309.4,438.7L309.5,444.0L309.6,438.9L309.7,443.9L309.8,439.0L309.9,443.8L310.0,439.1L310.0,443.7L310.1,439.2L310.2,443.6L310.3,439.3L310.4,443.5L310.5,439.4L310.6,443.5L310.7,439.4L310.8,443.4L310.9,439.5L311.0,443.3L311.1,439.6L311.2,443.3L311.3,439.6L311.4,443.2L311.5,439.7L311.6,443.2L311.6,439.7L311.7,443.1L311.8,439.8L311.9,443.1L312.0,439.8L312.7,443.0L313.3,440.0L314.0,442.8L314.7,440.2L315.3,442.7L316.0,440.3L316.6,442.6L317.3,440.4L318.0,442.5L318.6,440.4L319.3,442.5L319.9,440.5L320.6,442.4L321.3,440.6L321.9,442.4L322.6,440.6L323.2,442.3L323.9,440.7L324.6,442.3L325.2,440.7L325.9,442.2L326.5,440.7L327.2,442.2L327.9,440.8L328.5,442.1L329.2,440.8L329.8,442.1L330.5,440.9L331.2,442.1L331.8,440.9L332.5,442.0L333.1,440.9L333.8,442.0L334.5,441.0L335.1,442.0L335.8,441.0L336.4,441.9L337.1,441.0L337.8,441.9L338.4,441.0L339.1,441.9L339.7,441.1L340.4,441.9L341.1,441.1L341.7,441.8L342.4,441.1L343.0,441.8L343.7,441.1L344.4,441.8L345.0,441.1L345.7,441.8L346.3,441.2L347.0,441.8L347.7,441.2L348.3,441.7L349.0,441.2L349.6,441.7L350.3,441.2L351.0,441.7L351.6,441.2L352.3,441.7L352.9,441.2L353.6,441.7L354.2,441.3L354.9,441.7L355.6,441.3L356.2,441.7L356.9,441.3L357.5,441.7L358.2,441.3L359.2,441.5L491.1,441.5"/>
</defs>
<rect width="506" height="550" fill="#fff"/>
<g fill="none" stroke-width="1" stroke="#b0b0b0">
<path d="M39.5,7V136.5"/>
<path d="M37.0,136.50H39.5M37.0,120.31H39.5M37.0,104.12H39.5M37.0,87.94H39.5M37.0,71.75H39.5M37.0,55.56H39.5M37.0,39.38H39.5M37.0,23.19H39.5M37.0,7.00H39.5"/>
<path d="M39.5,136.50H231.5"/>
<path d="M39.50,136.50v2.5M58.70,136.50v2.5M77.90,136.50v2.5M97.10,136.50v2.5M116.30,136.50v2.5M135.50,136.50v2.5M154.70,136.50v2.5M173.90,136.50v2.5M193.10,136.50v2.5M212.30,136.50v2.5M231.50,136.50v2.5"/>
<path d="M305.4,6.5V136.1"/>
<path d="M302.9,136.10H305.4M302.9,114.50H305.4M302.9,92.90H305.4M302.9,71.30H305.4M302.9,49.70H305.4M302.9,28.10H305.4M302.9,6.50H305.4"/>
<path d="M305.4,136.10H489.3"/>
<path d="M305.40,136.10v2.5M323.79,136.10v2.5M342.18,136.10v2.5M360.57,136.10v2.5M378.96,136.10v2.5M397.35,136.10v2.5M415.74,136.10v2.5M434.13,136.10v2.5M452.52,136.10v2.5M470.91,136.10v2.5M489.30,136.10v2.5"/>
<path d="M41.6,194.5V315.7"/>
<path d="M39.1,315.70H41.6M39.1,295.50H41.6M39.1,275.30H41.6M39.1,255.10H41.6M39.1,234.90H41.6M39.1,214.70H41.6M39.1,194.50H41.6"/>
<path d="M41.6,315.70H232.2"/>
<path d="M41.60,315.70v2.5M60.66,315.70v2.5M79.72,315.70v2.5M98.78,315.70v2.5M117.84,315.70v2.5M136.90,315.70v2.5M155.96,315.70v2.5M175.02,315.70v2.5M194.08,315.70v2.5M213.14,315.70v2.5M232.20,315.70v2.5"/>
<path d="M307.6,195.2V326.5"/>
<path d="M305.1,326.50H307.6M305.1,310.09H307.6M305.1,293.68H307.6M305.1,277.26H307.6M305.1,260.85H307.6M305.1,244.44H307.6M305.1,228.03H307.6M305.1,211.61H307.6M305.1,195.20H307.6"/>
<path d="M307.6,260.85H491.1"/>
<path d="M307.60,260.85v2.5M325.95,260.85v2.5M344.30,260.85v2.5M362.65,260.85v2.5M381.00,260.85v2.5M399.35,260.85v2.5M417.70,260.85v2.5M436.05,260.85v2.5M454.40,260.85v2.5M472.75,260.85v2.5M491.10,260.85v2.5"/>
<path d="M37.7,376.3V497.4"/>
<path d="M35.2,497.40H37.7M35.2,480.10H37.7M35.2,462.80H37.7M35.2,445.50H37.7M35.2,428.20H37.7M35.2,410.90H37.7M35.2,393.60H37.7M35.2,376.30H37.7"/>
<path d="M37.7,436.85H231.7"/>
<path d="M37.70,436.85v2.5M57.10,436.85v2.5M76.50,436.85v2.5M95.90,436.85v2.5M115.30,436.85v2.5M134.70,436.85v2.5M154.10,436.85v2.5M173.50,436.85v2.5M192.90,436.85v2.5M212.30,436.85v2.5M231.70,436.85v2.5"/>
<path d="M302.6,376.9V498.4"/>
<path d="M300.1,498.40H302.6M300.1,481.04H302.6M300.1,463.69H302.6M300.1,446.33H302.6M300.1,428.97H302.6M300.1,411.61H302.6M300.1,394.26H302.6M300.1,376.90H302.6"/>
<path d="M302.6,498.40H491.1"/>
<path d="M302.60,498.40v2.5M321.45,498.40v2.5M340.30,498.40v2.5M359.15,498.40v2.5M378.00,498.40v2.5M396.85,498.40v2.5M415.70,498.40v2.5M434.55,498.40v2.5M453.40,498.40v2.5M472.25,498.40v2.5M491.10,498.40v2.5"/>
</g>
<g fill="none" stroke-width="2.25" stroke-linejoin="round" stroke-linecap="round">
<use href="#s1" stroke="#4083cc"/>
<use href="#s1" stroke="#ca3d35" stroke-dasharray="6 8.8"/>
<path d="M47.2,14H68.9" stroke="#4083cc" stroke-width="2.2" stroke-linecap="butt"/>
<path d="M47.2,28.6H68.9" stroke="#ca3d35" stroke-width="2.2" stroke-dasharray="5 2.3" stroke-linecap="butt"/>
<use href="#s2" stroke="#4083cc"/>
<use href="#s2" stroke="#ca3d35" stroke-dasharray="6 8.8"/>
<use href="#s3" stroke="#4083cc"/>
<use href="#s3" stroke="#ca3d35" stroke-dasharray="6 8.8"/>
<use href="#s4" stroke="#4083cc"/>
<use href="#s4" stroke="#ca3d35" stroke-dasharray="6 8.8"/>
<path d="M413.3,199.8H434.7" stroke="#4083cc" stroke-width="2.2" stroke-linecap="butt"/>
<path d="M413.3,214.1H434.7" stroke="#ca3d35" stroke-width="2.2" stroke-dasharray="5 2.3" stroke-linecap="butt"/>
<use href="#s5" stroke="#4083cc" stroke-width="2.25"/>
<use href="#s5" stroke="#ca3d35" stroke-dasharray="6 8.8" stroke-width="2.25"/>
<path d="M159.8,379.5H181.1" stroke="#4083cc" stroke-width="2.2" stroke-linecap="butt"/>
<path d="M159.8,394.2H181.1" stroke="#ca3d35" stroke-width="2.2" stroke-dasharray="5 2.3" stroke-linecap="butt"/>
<use href="#s6" stroke="#4083cc"/>
<use href="#s6" stroke="#ca3d35" stroke-dasharray="6 8.8"/>
<path d="M413.4,379.5H434.6" stroke="#4083cc" stroke-width="2.2" stroke-linecap="butt"/>
<path d="M413.4,394.2H434.6" stroke="#ca3d35" stroke-width="2.2" stroke-dasharray="5 2.3" stroke-linecap="butt"/>
</g>
<g opacity="0.999">
<text x="32.7" y="139.50" text-anchor="end" font-size="8.5" class="k">0</text>
<text x="32.7" y="123.31" text-anchor="end" font-size="8.5" class="k">5</text>
<text x="32.7" y="107.12" text-anchor="end" font-size="8.5" class="k">10</text>
<text x="32.7" y="90.94" text-anchor="end" font-size="8.5" class="k">15</text>
<text x="32.7" y="74.75" text-anchor="end" font-size="8.5" class="k">20</text>
<text x="32.7" y="58.56" text-anchor="end" font-size="8.5" class="k">25</text>
<text x="32.7" y="42.38" text-anchor="end" font-size="8.5" class="k">30</text>
<text x="32.7" y="26.19" text-anchor="end" font-size="8.5" class="k">35</text>
<text x="32.7" y="10.00" text-anchor="end" font-size="8.5" class="k">40</text>
<text x="39.30" y="150.00" text-anchor="middle" font-size="8.5" class="k">0</text>
<text x="77.70" y="150.00" text-anchor="middle" font-size="8.5" class="k">20</text>
<text x="116.10" y="150.00" text-anchor="middle" font-size="8.5" class="k">40</text>
<text x="154.50" y="150.00" text-anchor="middle" font-size="8.5" class="k">60</text>
<text x="192.90" y="150.00" text-anchor="middle" font-size="8.5" class="k">80</text>
<text x="231.30" y="150.00" text-anchor="middle" font-size="8.5" class="k">100</text>
<text x="71.1" y="16.9" font-size="10" class="lg">Developed</text>
<text x="71.1" y="31.3" font-size="10" class="lg">3d ground</text>
<text x="132.8" y="161.6" text-anchor="middle" font-size="11" class="t xt">time (sec)</text>
<text x="133.5" y="178.0" text-anchor="middle" font-size="11" class="c">(<tspan font-style="italic">a</tspan>)</text>
<text transform="translate(14.2,66.35) rotate(-90)" text-anchor="middle" font-size="11.1" class="t">Surge response (m)</text>
<text x="298.0" y="139.10" text-anchor="end" font-size="8.5" class="k">1.34</text>
<text x="298.0" y="117.50" text-anchor="end" font-size="8.5" class="k">1.35</text>
<text x="298.0" y="95.90" text-anchor="end" font-size="8.5" class="k">1.36</text>
<text x="298.0" y="74.30" text-anchor="end" font-size="8.5" class="k">1.37</text>
<text x="298.0" y="52.70" text-anchor="end" font-size="8.5" class="k">1.38</text>
<text x="298.0" y="31.10" text-anchor="end" font-size="8.5" class="k">1.39</text>
<text x="298.0" y="9.50" text-anchor="end" font-size="8.5" class="k">1.4</text>
<text x="305.20" y="149.70" text-anchor="middle" font-size="8.5" class="k">0</text>
<text x="341.98" y="149.70" text-anchor="middle" font-size="8.5" class="k">20</text>
<text x="378.76" y="149.70" text-anchor="middle" font-size="8.5" class="k">40</text>
<text x="415.54" y="149.70" text-anchor="middle" font-size="8.5" class="k">60</text>
<text x="452.32" y="149.70" text-anchor="middle" font-size="8.5" class="k">80</text>
<text x="489.10" y="149.70" text-anchor="middle" font-size="8.5" class="k">100</text>
<text x="391.2" y="161.7" text-anchor="middle" font-size="11" class="t xt">time (sec)</text>
<text x="390.6" y="177.79999999999998" text-anchor="middle" font-size="11" class="c">(<tspan font-style="italic">b</tspan>)</text>
<text transform="translate(270.2,65.3) rotate(-90)" text-anchor="middle" font-size="11.15" class="t">Heave response (m)</text>
<text x="34.7" y="318.70" text-anchor="end" font-size="8.5" class="k">0</text>
<text x="34.7" y="298.50" text-anchor="end" font-size="8.5" class="k">0.1</text>
<text x="34.7" y="278.30" text-anchor="end" font-size="8.5" class="k">0.2</text>
<text x="34.7" y="258.10" text-anchor="end" font-size="8.5" class="k">0.3</text>
<text x="34.7" y="237.90" text-anchor="end" font-size="8.5" class="k">0.4</text>
<text x="34.7" y="217.70" text-anchor="end" font-size="8.5" class="k">0.5</text>
<text x="34.7" y="197.50" text-anchor="end" font-size="8.5" class="k">0.6</text>
<text x="41.40" y="329.70" text-anchor="middle" font-size="8.5" class="k">0</text>
<text x="79.52" y="329.70" text-anchor="middle" font-size="8.5" class="k">20</text>
<text x="117.64" y="329.70" text-anchor="middle" font-size="8.5" class="k">40</text>
<text x="155.76" y="329.70" text-anchor="middle" font-size="8.5" class="k">60</text>
<text x="193.88" y="329.70" text-anchor="middle" font-size="8.5" class="k">80</text>
<text x="232.00" y="329.70" text-anchor="middle" font-size="8.5" class="k">100</text>
<text x="133" y="340.8" text-anchor="middle" font-size="11" class="t xt">time (sec)</text>
<text x="133" y="359.20000000000005" text-anchor="middle" font-size="11" class="c">(<tspan font-style="italic">c</tspan>)</text>
<text transform="translate(16.2,248.85) rotate(-90)" text-anchor="middle" font-size="11.26" class="t">Longitudinal velocity (m/s)</text>
<text x="300.6" y="329.50" text-anchor="end" font-size="8.5" class="k">-0.08</text>
<text x="300.6" y="313.09" text-anchor="end" font-size="8.5" class="k">-0.06</text>
<text x="300.6" y="296.68" text-anchor="end" font-size="8.5" class="k">-0.04</text>
<text x="300.6" y="280.26" text-anchor="end" font-size="8.5" class="k">-0.02</text>
<text x="300.6" y="263.85" text-anchor="end" font-size="8.5" class="k">0</text>
<text x="300.6" y="247.44" text-anchor="end" font-size="8.5" class="k">0.02</text>
<text x="300.6" y="231.03" text-anchor="end" font-size="8.5" class="k">0.04</text>
<text x="300.6" y="214.61" text-anchor="end" font-size="8.5" class="k">0.06</text>
<text x="300.6" y="198.20" text-anchor="end" font-size="8.5" class="k">0.08</text>
<text x="307.40" y="275.30" text-anchor="middle" font-size="8.5" class="k">0</text>
<text x="344.10" y="275.30" text-anchor="middle" font-size="8.5" class="k">20</text>
<text x="380.80" y="275.30" text-anchor="middle" font-size="8.5" class="k">40</text>
<text x="417.50" y="275.30" text-anchor="middle" font-size="8.5" class="k">60</text>
<text x="454.20" y="275.30" text-anchor="middle" font-size="8.5" class="k">80</text>
<text x="490.90" y="275.30" text-anchor="middle" font-size="8.5" class="k">100</text>
<text x="437.4" y="203.3" font-size="10" class="lg">Developed</text>
<text x="437.4" y="217.6" font-size="10" class="lg">3d ground</text>
<text x="390.8" y="340.6" text-anchor="middle" font-size="11" class="t xt">time (sec)</text>
<text x="390.8" y="358.0" text-anchor="middle" font-size="11" class="c">(<tspan font-style="italic">d</tspan>)</text>
<text transform="translate(270.2,258) rotate(-90)" text-anchor="middle" font-size="11.14" class="t">Vertical velocity (m/s)</text>
<text x="29.6" y="500.40" text-anchor="end" font-size="8.5" class="k lt">-7</text>
<text x="29.6" y="483.10" text-anchor="end" font-size="8.5" class="k lt">-5</text>
<text x="29.6" y="465.80" text-anchor="end" font-size="8.5" class="k lt">-3</text>
<text x="29.6" y="448.50" text-anchor="end" font-size="8.5" class="k lt">-1</text>
<text x="29.6" y="431.20" text-anchor="end" font-size="8.5" class="k lt">1</text>
<text x="29.6" y="413.90" text-anchor="end" font-size="8.5" class="k lt">3</text>
<text x="29.6" y="396.60" text-anchor="end" font-size="8.5" class="k lt">5</text>
<text x="29.6" y="379.30" text-anchor="end" font-size="8.5" class="k lt">7</text>
<text x="37.50" y="511.50" text-anchor="middle" font-size="8.5" class="k">0</text>
<text x="76.30" y="511.50" text-anchor="middle" font-size="8.5" class="k">20</text>
<text x="115.10" y="511.50" text-anchor="middle" font-size="8.5" class="k">40</text>
<text x="153.90" y="511.50" text-anchor="middle" font-size="8.5" class="k">60</text>
<text x="192.70" y="511.50" text-anchor="middle" font-size="8.5" class="k">80</text>
<text x="231.50" y="511.50" text-anchor="middle" font-size="8.5" class="k">100</text>
<text x="183.9" y="381.9" font-size="10" class="lg">Developed</text>
<text x="183.9" y="396.7" font-size="10" class="lg">3d ground</text>
<text x="133.3" y="525" text-anchor="middle" font-size="11" class="t xt">time (sec)</text>
<text x="132.7" y="543.3000000000001" text-anchor="middle" font-size="11" class="c">(<tspan font-style="italic">e</tspan>)</text>
<text transform="translate(15.2,434.9) rotate(-90)" text-anchor="middle" font-size="11.0" class="t">Shear soil force (kN)</text>
<text x="295.6" y="501.40" text-anchor="end" font-size="8.5" class="k">60</text>
<text x="295.6" y="484.04" text-anchor="end" font-size="8.5" class="k">70</text>
<text x="295.6" y="466.69" text-anchor="end" font-size="8.5" class="k">80</text>
<text x="295.6" y="449.33" text-anchor="end" font-size="8.5" class="k">90</text>
<text x="295.6" y="431.97" text-anchor="end" font-size="8.5" class="k">100</text>
<text x="295.6" y="414.61" text-anchor="end" font-size="8.5" class="k">110</text>
<text x="295.6" y="397.26" text-anchor="end" font-size="8.5" class="k">120</text>
<text x="295.6" y="379.90" text-anchor="end" font-size="8.5" class="k">130</text>
<text x="302.40" y="512.10" text-anchor="middle" font-size="8.5" class="k">0</text>
<text x="340.10" y="512.10" text-anchor="middle" font-size="8.5" class="k">20</text>
<text x="377.80" y="512.10" text-anchor="middle" font-size="8.5" class="k">40</text>
<text x="415.50" y="512.10" text-anchor="middle" font-size="8.5" class="k">60</text>
<text x="453.20" y="512.10" text-anchor="middle" font-size="8.5" class="k">80</text>
<text x="490.90" y="512.10" text-anchor="middle" font-size="8.5" class="k">100</text>
<text x="437.8" y="382.3" font-size="10" class="lg">Developed</text>
<text x="437.8" y="397.3" font-size="10" class="lg">3d ground</text>
<text x="391.2" y="524.7" text-anchor="middle" font-size="11" class="t xt">time (sec)</text>
<text x="391" y="543.1" text-anchor="middle" font-size="11" class="c">(<tspan font-style="italic">f</tspan>)</text>
<text transform="translate(270.0,432.3) rotate(-90)" text-anchor="middle" font-size="11.06" class="t">Normal soil force (kN)</text>
</g>
</svg></body></html>
